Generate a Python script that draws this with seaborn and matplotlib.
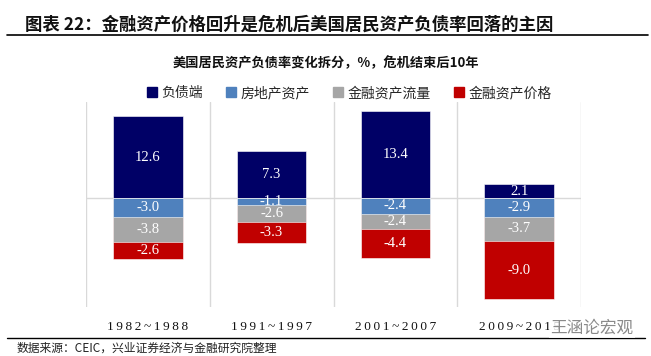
import matplotlib
matplotlib.use("Agg")
import matplotlib.pyplot as plt
from matplotlib.lines import Line2D
import numpy as np
import pandas as pd
import seaborn as sns

periods = ["1982~1988", "1991~1997", "2001~2007", "2009~2015"]
series_names = ["负债端", "房地产资产", "金融资产流量", "金融资产价格"]
liabilities = [12.6, 7.3, 13.4, 2.1]
real_estate = [-3.0, -1.1, -2.4, -2.9]
fin_flow = [-3.8, -2.6, -2.4, -3.7]
fin_price = [-2.6, -3.3, -4.4, -9.0]

colors = ["#000066", "#4F81BD", "#A6A6A6", "#C00000"]

sns.set_theme(style="white")
plt.rcParams["font.family"] = ["Noto Sans CJK SC", "DejaVu Sans"]

fig = plt.figure(figsize=(6.51, 3.56), dpi=100)
ax = fig.add_axes([86 / 651, 1 - 307 / 356, (581 - 86) / 651, (307 - 102) / 356])

df = pd.DataFrame({"period": periods, "liab": liabilities, "re": real_estate,
                   "flow": fin_flow, "price": fin_price})
df["c1"] = df["re"]
df["c2"] = df["re"] + df["flow"]
df["c3"] = df["re"] + df["flow"] + df["price"]

bw = 0.56
common = dict(data=df, x="period", order=periods, width=bw, edgecolor="white",
              linewidth=0.4, ax=ax, errorbar=None)
sns.barplot(y="liab", color=colors[0], saturation=1, **common)
sns.barplot(y="c3", color=colors[3], saturation=1, **common)
sns.barplot(y="c2", color=colors[2], saturation=1, **common)
sns.barplot(y="c1", color=colors[1], saturation=1, **common)

# data labels
lab_kw = dict(ha="center", va="center", color="white", fontsize=10.5,
              family=["Liberation Serif"])
for i in range(len(periods)):
    ax.text(i, liabilities[i] / 2, f"{liabilities[i]:.1f}", **lab_kw)
    bottoms = [0, df["c1"][i], df["c2"][i]]
    vals = [real_estate[i], fin_flow[i], fin_price[i]]
    for b, v in zip(bottoms, vals):
        ax.text(i, b + v / 2, f"{v:.1f}", **lab_kw)

ax.set_xlim(-0.5, len(periods) - 0.5)
ax.set_ylim(-16.8, 14.8)
ax.axhline(0, color="#D9D9D9", lw=1, zorder=0.5)
for xb in np.arange(-0.5, len(periods), 1.0):
    ax.axvline(xb, color="#D9D9D9", lw=1, zorder=0.5)
for s in ax.spines.values():
    s.set_visible(False)
ax.set_yticks([])
ax.set_xlabel("")
ax.set_ylabel("")
ax.set_xticks(range(len(periods)))
ax.set_xticklabels(["\u2009".join(p) for p in periods], family=["Liberation Serif", "DejaVu Serif"],
                   fontsize=9.5, color="#111111")
ax.tick_params(axis="x", length=0, pad=10)

# titles
fig.text(25 / 651, 1 - 25 / 356, "图表 22：金融资产价格回升是危机后美国居民资产负债率回落的主因",
         fontsize=12.5, fontweight="bold", ha="left", va="center", color="#111111")
fig.add_artist(Line2D([7 / 651, 648 / 651], [1 - 34.5 / 356] * 2, color="black", lw=1.2))
fig.text(326 / 651, 1 - 63 / 356, "美国居民资产负债率变化拆分，%，危机结束后10年",
         fontsize=9.5, fontweight="bold", ha="center", va="center", color="#111111")

handles = [Line2D([0], [0], marker="s", linestyle="none", markersize=6.5,
                  markerfacecolor=c, markeredgecolor=c) for c in colors]
fig.legend(handles, series_names, loc="center", ncol=4,
           bbox_to_anchor=(349 / 651, 1 - 93 / 356), frameon=False,
           fontsize=10, handlelength=0.8, handletextpad=0.3, columnspacing=1.6)

fig.add_artist(Line2D([7 / 651, 645 / 651], [1 - 338 / 356] * 2, color="black", lw=1.0))
fig.text(17 / 651, 1 - 348.5 / 356, "数据来源：CEIC，兴业证券经济与金融研究院整理",
         fontsize=8.5, ha="left", va="center", color="#222222")

# watermark
fig.text(592 / 651, 1 - 328 / 356, "王涵论宏观", fontsize=12, ha="center", va="center",
         color="#8A8A8A", bbox=dict(boxstyle="square,pad=0.1", fc="white", ec="none", alpha=0.8))

fig.savefig("out.png", dpi=100)
